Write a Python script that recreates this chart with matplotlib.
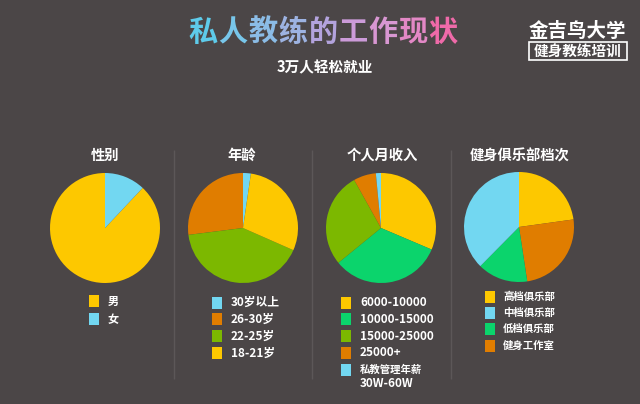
import matplotlib
matplotlib.use("Agg")
import matplotlib.pyplot as plt
from matplotlib.patches import Rectangle
import numpy as np

plt.rcParams['font.family'] = ['Noto Sans CJK SC', 'DejaVu Sans']

# ---------------- data ----------------
title = "私人教练的工作现状"
subtitle = "3万人轻松就业"
logo_top = "金吉鸟大学"
logo_bottom = "健身教练培训"

panel_titles = ["性别", "年龄", "个人月收入", "健身俱乐部档次"]

gender_labels = ["男", "女"]
gender_values = [88, 12]

age_labels = ["30岁以上", "26-30岁", "22-25岁", "18-21岁"]
age_values = [2.3, 27.0, 41.4, 29.3]

income_labels = ["6000-10000", "10000-15000", "15000-25000", "25000+", "私教管理年薪"]
income_extra = "30W-60W"
income_values = [31.4, 32.7, 27.8, 6.6, 1.5]

club_labels = ["高档俱乐部", "中档俱乐部", "低档俱乐部", "健身工作室"]
club_values = [22.8, 37.6, 14.8, 24.8]

# ---------------- style ----------------
BG = "#4b4647"
YELLOW = "#fdc800"
BLUE = "#72d7f1"
ORANGE = "#e07d00"
OLIVE = "#7cb800"
GREEN = "#0bd46c"
SEP = "#5c5758"

gender_colors = [YELLOW, BLUE]
age_colors = [BLUE, ORANGE, OLIVE, YELLOW]
income_colors = [YELLOW, GREEN, OLIVE, ORANGE, BLUE]
club_colors = [YELLOW, BLUE, GREEN, ORANGE]
title_colors = ["#5ecbea", "#78c6ea", "#8bbce6", "#9db3e2", "#b3a3dd",
                "#cc9bd9", "#d897d2", "#e388c6", "#ef6aa9"]

W, H = 640, 404
fig = plt.figure(figsize=(6.4, 4.04), dpi=100, facecolor=BG)
ax = fig.add_axes([0, 0, 1, 1])
ax.set_facecolor(BG)

def Y(y):
    return H - y

# pies
R = 55
ax.pie(gender_values, colors=gender_colors, startangle=90, counterclock=True,
       center=(105, Y(228)), radius=R, frame=True, wedgeprops=dict(linewidth=0))
ax.pie(age_values, colors=age_colors, startangle=90 - 360 * age_values[0] / sum(age_values),
       counterclock=True, center=(243, Y(228)), radius=R, frame=True,
       wedgeprops=dict(linewidth=0))
ax.pie(income_values, colors=income_colors, startangle=90, counterclock=False,
       center=(381, Y(228)), radius=R, frame=True, wedgeprops=dict(linewidth=0))
club_order = [0, 3, 2, 1]
ax.pie([club_values[i] for i in club_order], colors=[club_colors[i] for i in club_order],
       startangle=90, counterclock=False, center=(519, Y(227)), radius=R, frame=True,
       wedgeprops=dict(linewidth=0))

# separators
for x in [173.5, 311.5, 451]:
    ax.plot([x, x], [Y(150), Y(379)], color=SEP, lw=1, solid_capstyle='butt')

# main title, per-character gradient
x0, step = 203, 30.0
for i, ch in enumerate(title):
    ax.text(x0 + i * step, Y(32), ch, color=title_colors[i], fontsize=21,
            fontweight='bold', ha='center', va='center')
ax.text(325, Y(67), subtitle, color='white', fontsize=10.5, fontweight='bold',
        ha='center', va='center')

# logo
ax.text(577.5, Y(31), logo_top, color='white', fontsize=14, fontweight='bold',
        ha='center', va='center')
ax.add_patch(Rectangle((528.5, Y(59.5)), 98, 18, fill=False, edgecolor='white', lw=1.2))
ax.text(577.5, Y(50.5), logo_bottom, color='white', fontsize=10.5, fontweight='bold',
        ha='center', va='center')

# panel titles
for x, t in zip([105, 242, 382, 520], panel_titles):
    ax.text(x, Y(156), t, color='white', fontsize=10.3, fontweight='bold',
            ha='center', va='center')

def legend(labels, colors, sx, tx, y0, dy, fs, sizes=None):
    for i, (lab, col) in enumerate(zip(labels, colors)):
        y = y0 + i * dy
        f = sizes[i] if sizes else fs
        ax.add_patch(Rectangle((sx - 5, Y(y + 6)), 10, 12, facecolor=col, edgecolor='none'))
        ax.text(tx, Y(y), lab, color='white', fontsize=f, fontweight='bold',
                ha='left', va='center')

legend(gender_labels, gender_colors, 94, 108, 301, 18.3, 8)
legend(age_labels, age_colors, 217, 231, 302.5, 16.9, 8.5)
legend(income_labels, income_colors, 346, 360, 302.5, 16.8, 8.5,
       sizes=[8.5, 8.5, 8.5, 8.5, 7.5])
ax.text(360, Y(383.5), income_extra, color='white', fontsize=8.5, fontweight='bold',
        ha='left', va='center')
legend(club_labels, club_colors, 490, 503, 296.5, 16.4, 7.5)

ax.set_xlim(0, W)
ax.set_ylim(0, H)
ax.set_aspect('equal')
ax.axis('off')

fig.savefig("out.png", dpi=100, facecolor=BG)
